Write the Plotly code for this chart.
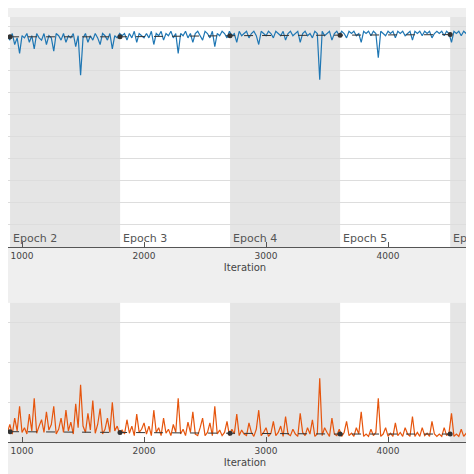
import numpy as np
import plotly.graph_objects as go

# per-iteration values, sampled every 20 iterations starting at 820
start_iter = 820
step = 20
accuracy = [
    0.93, 0.95, 0.90, 0.96, 0.94, 0.97, 0.92, 0.95, 0.88, 0.96,
    0.95, 0.97, 0.93, 0.96, 0.90, 0.97, 0.95, 0.94, 0.97, 0.92,
    0.96, 0.95, 0.89, 0.97, 0.96, 0.94, 0.97, 0.93, 0.96, 0.95,
    0.97, 0.91, 0.96, 0.78, 0.95, 0.97, 0.93, 0.96, 0.94, 0.97,
    0.95, 0.92, 0.97, 0.96, 0.94, 0.97, 0.90, 0.96, 0.95, 0.97,
    0.96, 0.97, 0.94, 0.97, 0.95, 0.98, 0.93, 0.97, 0.96, 0.95,
    0.97, 0.95, 0.98, 0.92, 0.97, 0.96, 0.98, 0.94, 0.97, 0.96,
    0.98, 0.95, 0.97, 0.88, 0.97, 0.96, 0.98, 0.95, 0.97, 0.93,
    0.97, 0.98, 0.96, 0.94, 0.98, 0.97, 0.95, 0.98, 0.91, 0.97,
    0.96, 0.98, 0.97, 0.95, 0.98, 0.96, 0.97, 0.93, 0.98, 0.96,
    0.97, 0.98, 0.95, 0.97, 0.98, 0.96, 0.92, 0.98, 0.97, 0.96,
    0.98, 0.97, 0.95, 0.98, 0.97, 0.96, 0.98, 0.94, 0.97, 0.98,
    0.96, 0.97, 0.98, 0.93, 0.97, 0.98, 0.96, 0.97, 0.95, 0.98,
    0.97, 0.76, 0.98, 0.96, 0.97, 0.98, 0.94, 0.97, 0.98, 0.96,
    0.98, 0.97, 0.95, 0.98, 0.97, 0.98, 0.96, 0.97, 0.93, 0.98,
    0.97, 0.98, 0.96, 0.98, 0.97, 0.86, 0.98, 0.97, 0.96, 0.98,
    0.97, 0.98, 0.95, 0.98, 0.97, 0.98, 0.96, 0.97, 0.98, 0.94,
    0.98, 0.97, 0.98, 0.96, 0.98, 0.97, 0.98, 0.95, 0.97, 0.98,
    0.97, 0.98, 0.96, 0.98, 0.97, 0.93, 0.98, 0.97, 0.98, 0.96,
    0.98, 0.97, 0.98, 0.96, 0.98, 0.97, 0.95, 0.98, 0.97, 0.98,
]
loss = [
    0.25, 0.15, 0.40, 0.12, 0.22, 0.10, 0.30, 0.14, 0.45, 0.12,
    0.18, 0.10, 0.35, 0.14, 0.55, 0.11, 0.20, 0.28, 0.12, 0.38,
    0.15, 0.22, 0.45, 0.10, 0.16, 0.30, 0.12, 0.40, 0.14, 0.25,
    0.10, 0.48, 0.18, 0.72, 0.20, 0.12, 0.36, 0.15, 0.52, 0.11,
    0.22, 0.42, 0.10, 0.16, 0.30, 0.12, 0.50, 0.14, 0.20, 0.10,
    0.15, 0.10, 0.28, 0.11, 0.20, 0.08, 0.35, 0.12, 0.16, 0.24,
    0.10, 0.20, 0.08, 0.40, 0.12, 0.18, 0.08, 0.30, 0.11, 0.16,
    0.08, 0.22, 0.12, 0.55, 0.10, 0.16, 0.08, 0.25, 0.12, 0.38,
    0.10, 0.08, 0.18, 0.30, 0.08, 0.12, 0.24, 0.08, 0.45, 0.10,
    0.15, 0.08, 0.12, 0.26, 0.08, 0.16, 0.10, 0.35, 0.08, 0.15,
    0.10, 0.08, 0.24, 0.12, 0.07, 0.16, 0.40, 0.08, 0.12, 0.18,
    0.07, 0.11, 0.26, 0.08, 0.12, 0.20, 0.07, 0.32, 0.10, 0.08,
    0.16, 0.10, 0.07, 0.36, 0.12, 0.08, 0.18, 0.10, 0.28, 0.07,
    0.10, 0.80, 0.08, 0.18, 0.12, 0.07, 0.30, 0.10, 0.08, 0.16,
    0.07, 0.12, 0.26, 0.08, 0.11, 0.07, 0.18, 0.10, 0.38, 0.07,
    0.10, 0.07, 0.16, 0.08, 0.12, 0.55, 0.07, 0.10, 0.18, 0.07,
    0.11, 0.07, 0.24, 0.08, 0.12, 0.07, 0.18, 0.10, 0.07, 0.32,
    0.07, 0.12, 0.07, 0.18, 0.08, 0.11, 0.07, 0.26, 0.10, 0.07,
    0.10, 0.07, 0.18, 0.08, 0.12, 0.36, 0.07, 0.10, 0.07, 0.16,
    0.07, 0.11, 0.07, 0.18, 0.08, 0.12, 0.24, 0.07, 0.10, 0.07,
]
iterations = start_iter + step * np.arange(len(accuracy))

epoch_starts = [902, 1803, 2705, 3607, 4509]
epoch_names = ["Epoch 2", "Epoch 3", "Epoch 4", "Epoch 5", "Epoch 6"]
epoch_acc = [0.955, 0.955, 0.96, 0.962, 0.965]
epoch_loss = [0.13, 0.12, 0.11, 0.10, 0.10]

fig = go.Figure()
fig.add_trace(go.Scatter(x=iterations, y=accuracy, mode="lines",
                         line=dict(color="#1f77b4", width=1.2), xaxis="x", yaxis="y"))
fig.add_trace(go.Scatter(x=epoch_starts, y=epoch_acc, mode="lines+markers",
                         line=dict(color="#333", width=1, dash="dash"),
                         marker=dict(color="#333", size=5), xaxis="x", yaxis="y"))
fig.add_trace(go.Scatter(x=iterations, y=loss, mode="lines",
                         line=dict(color="#e6550d", width=1.2), xaxis="x2", yaxis="y2"))
fig.add_trace(go.Scatter(x=epoch_starts, y=epoch_loss, mode="lines+markers",
                         line=dict(color="#333", width=1, dash="dash"),
                         marker=dict(color="#333", size=5), xaxis="x2", yaxis="y2"))

shapes = []
annotations = []
for i, s in enumerate(epoch_starts):
    if i % 2 == 0:
        for xr, yr in (("x", "y domain"), ("x2", "y2 domain")):
            shapes.append(dict(type="rect", xref=xr, yref=yr, x0=s, x1=s + 902, y0=0, y1=1,
                               fillcolor="#e5e5e5", line_width=0, layer="below"))
    annotations.append(dict(x=s, y=0, xref="x", yref="y domain", text=epoch_names[i],
                            showarrow=False, xanchor="left", yanchor="bottom", xshift=1,
                            font=dict(size=11, color="#555")))

xcommon = dict(range=[885, 4770], tickvals=[1000, 2000, 3000, 4000], ticks="inside",
               ticklen=5, tickcolor="#555", showline=True, linecolor="#555",
               showgrid=False, tickfont=dict(size=9, color="#444"), zeroline=False,
               title=dict(text="Iteration", font=dict(size=10, color="#444"), standoff=4))
ycommon = dict(showticklabels=False, showline=False, zeroline=False,
               gridcolor="#dddddd", ticks="")

fig.update_layout(
    width=474, height=474, margin=dict(l=0, r=0, t=0, b=0),
    paper_bgcolor="#efefef", plot_bgcolor="white", showlegend=False,
    font=dict(family="DejaVu Sans"),
    xaxis=dict(**xcommon, anchor="y"),
    yaxis=dict(**ycommon, domain=[0.496, 0.981], range=[0, 1.045], dtick=0.1),
    xaxis2=dict(**xcommon, anchor="y2"),
    yaxis2=dict(**ycommon, domain=[0.0844, 0.378], range=[0, 1.75], dtick=0.5),
    shapes=shapes, annotations=annotations,
)

fig.write_html("out.html")
